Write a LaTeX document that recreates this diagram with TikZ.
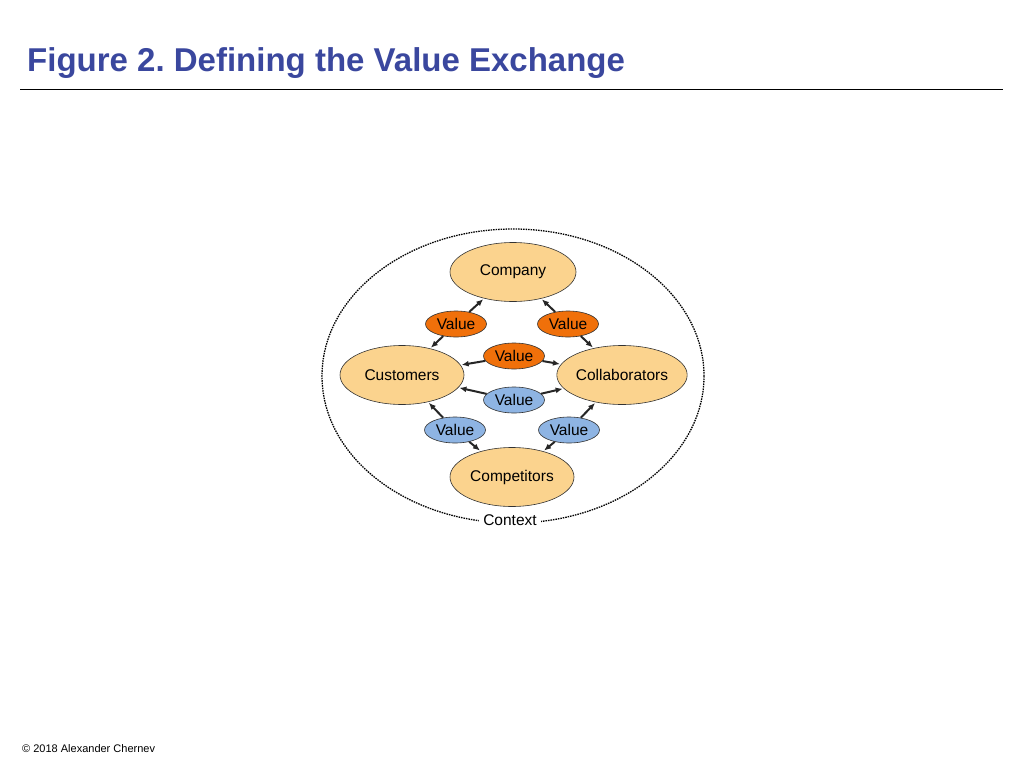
\documentclass[tikz,border=0pt]{standalone}
\usepackage{fontspec}
\setmainfont{Liberation Sans}
\usetikzlibrary{shapes.geometric,arrows.meta}
\definecolor{peach}{HTML}{FBD38E}
\definecolor{orng}{HTML}{F0700A}
\definecolor{bluev}{HTML}{8EB4E3}
\definecolor{titleblue}{HTML}{3A479E}
\frenchspacing
\begin{document}
\begin{tikzpicture}[x=1pt,y=-1pt,
  big/.style={ellipse,draw=black!80,fill=peach,line width=0.6pt,minimum width=#1,minimum height=59pt,inner sep=0pt,font=\fontsize{15.5}{15.5}\selectfont},
  big/.default=124pt,
  val/.style={ellipse,draw=black!80,fill=#1,line width=0.6pt,minimum width=61pt,minimum height=26pt,inner sep=0pt,font=\fontsize{15.5}{15.5}\selectfont},
  arr/.style={-{Latex[length=7pt,width=6pt]},line width=2pt,black!85,shorten >=1pt,shorten <=0pt}]
\useasboundingbox (0,0) rectangle (1024,768);
\node[anchor=base west,inner sep=0pt,text=titleblue,font=\bfseries\fontsize{33}{33}\selectfont] (title) at (27,71) {Figure 2. Defining the Value Exchange};
\draw[line width=0.8pt] (20,89) -- (1003,89);
\node[anchor=base west,inner sep=0pt,font=\fontsize{11}{11}\selectfont] (foot) at (22,752) {© 2018 Alexander Chernev};
\draw[line width=1.3pt,dash pattern=on 1.5pt off 1pt] (513,376) ellipse [x radius=191, y radius=147];
\node[fill=white,inner sep=4pt,font=\fontsize{15.5}{15.5}\selectfont] (ctx) at (510,520) {Context};
\node[big=126pt] (comp) at (513,272) {Company};
\node[big] (cust) at (402,375) {Customers};
\node[big=122pt] (coll) at (622,375) {Collaborators};
\node[big] (compet) at (512,477) {Competitors};
\node[val=orng] (v1) at (456,324) {Value};
\node[val=orng] (v2) at (568,324) {Value};
\node[val=orng] (v3) at (514,356) {Value};
\node[val=bluev] (v4) at (514,400) {Value};
\node[val=bluev] (v5) at (455,430) {Value};
\node[val=bluev] (v6) at (569,430) {Value};
\draw[arr] (v1) -- (comp);
\draw[arr] (v1) -- (cust);
\draw[arr] (v2) -- (comp);
\draw[arr] (v2) -- (coll);
\draw[arr] (v3) -- (cust);
\draw[arr] (v3) -- (coll);
\draw[arr] (v4) -- (cust);
\draw[arr] (v4) -- (coll);
\draw[arr] (v5) -- (cust);
\draw[arr] (v5) -- (compet);
\draw[arr] (v6) -- (coll);
\draw[arr] (v6) -- (compet);
\end{tikzpicture}
\end{document}
